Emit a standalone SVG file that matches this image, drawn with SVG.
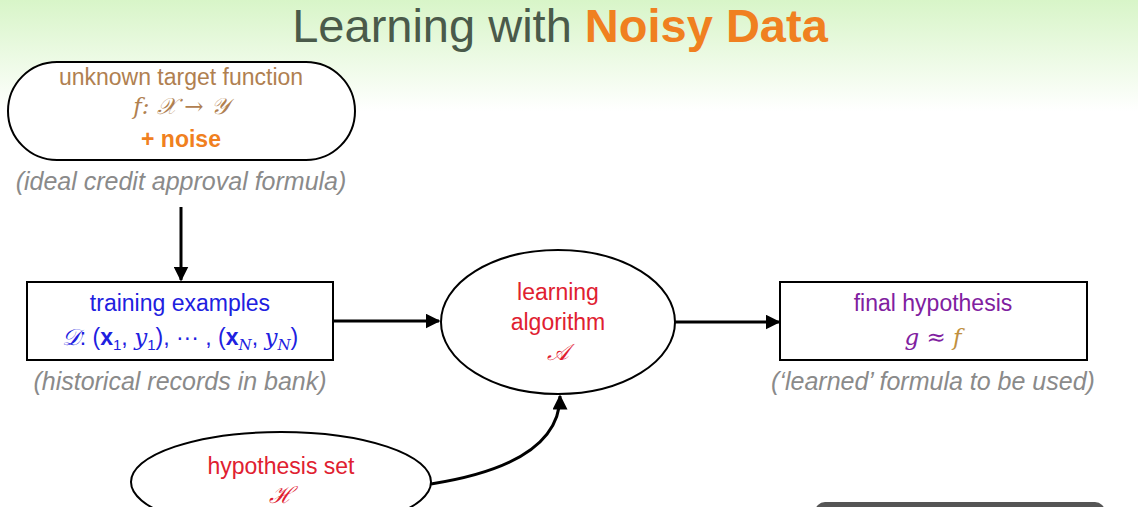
<svg xmlns="http://www.w3.org/2000/svg" width="1138" height="507" viewBox="0 0 1138 507">
<defs>
<linearGradient id="bg" x1="0" y1="0" x2="0" y2="1"><stop offset="0" stop-color="#d8f5c8"/><stop offset="0.22" stop-color="#ffffff"/><stop offset="1" stop-color="#ffffff"/></linearGradient>
<marker id="ah" viewBox="0 0 10 10" refX="9" refY="5" markerWidth="5" markerHeight="5" orient="auto"><path d="M0,0 L10,5 L0,10 z" fill="#000"/></marker>
</defs>
<style>
text{font-family:"Liberation Sans",Arial,sans-serif;font-size:23px;text-anchor:middle}
.m{font-family:"DejaVu Serif",serif;font-style:italic}
.cap{fill:#8a8a8a;font-style:italic;font-size:25px}
.sh{fill:#fff;stroke:#000;stroke-width:2}
.c{fill:none;stroke:#000;stroke-width:3;marker-end:url(#ah)}
</style>
<rect width="1138" height="507" fill="url(#bg)"/>
<text x="560" y="42" style="font-size:47px" fill="#4a5a4a">Learning with <tspan fill="#f08020" font-weight="bold">Noisy Data</tspan></text>
<g id="target">
<rect class="sh" x="8" y="62" width="347" height="98" rx="49"/>
<text x="181" y="85" fill="#b08050">unknown target function</text>
<text x="181" y="114" class="m" fill="#b08050">f: 𝒳 → 𝒴</text>
<text x="181" y="147" fill="#f08020" font-weight="bold">+ noise</text>
<text x="181" y="190" class="cap">(ideal credit approval formula)</text>
</g>
<g id="training">
<rect class="sh" x="27" y="282" width="306" height="78"/>
<text x="180" y="311" fill="#2020e0">training examples</text>
<text x="180" y="345" fill="#2020e0"><tspan class="m">𝒟</tspan>: (<tspan font-weight="bold">x</tspan><tspan font-size="15" dy="5">1</tspan><tspan dy="-5">, </tspan><tspan class="m">y</tspan><tspan font-size="15" dy="5">1</tspan><tspan dy="-5">), ··· , (</tspan><tspan font-weight="bold">x</tspan><tspan font-size="15" dy="5" class="m">N</tspan><tspan dy="-5">, </tspan><tspan class="m">y</tspan><tspan font-size="15" dy="5" class="m">N</tspan><tspan dy="-5">)</tspan></text>
<text x="180" y="390" class="cap">(historical records in bank)</text>
</g>
<g id="algorithm">
<ellipse class="sh" cx="558" cy="322" rx="117" ry="72"/>
<text x="558" y="300" fill="#e02030">learning</text>
<text x="558" y="330" fill="#e02030">algorithm</text>
<text x="558" y="360" class="m" fill="#e02030">𝒜</text>
</g>
<g id="final">
<rect class="sh" x="780" y="282" width="307" height="78"/>
<text x="933" y="311" fill="#8020a0">final hypothesis</text>
<text x="933" y="345" class="m" fill="#8020a0">g ≈ <tspan fill="#c09040">f</tspan></text>
<text x="933" y="390" class="cap">(‘learned’ formula to be used)</text>
</g>
<g id="hypset">
<ellipse class="sh" cx="281" cy="482" rx="150" ry="50"/>
<text x="281" y="474" fill="#e02030">hypothesis set</text>
<text x="281" y="503" class="m" fill="#e02030">ℋ</text>
</g>
<rect x="815" y="502" width="290" height="20" rx="10" fill="#555"/>
<g id="connectors">
<path class="c" d="M181,207 L181,280"/>
<path class="c" d="M333,321 L439,321"/>
<path class="c" d="M675,322 L779,322"/>
<path class="c" d="M431,484 C520,470 560,440 560,396"/>
</g>
</svg>
